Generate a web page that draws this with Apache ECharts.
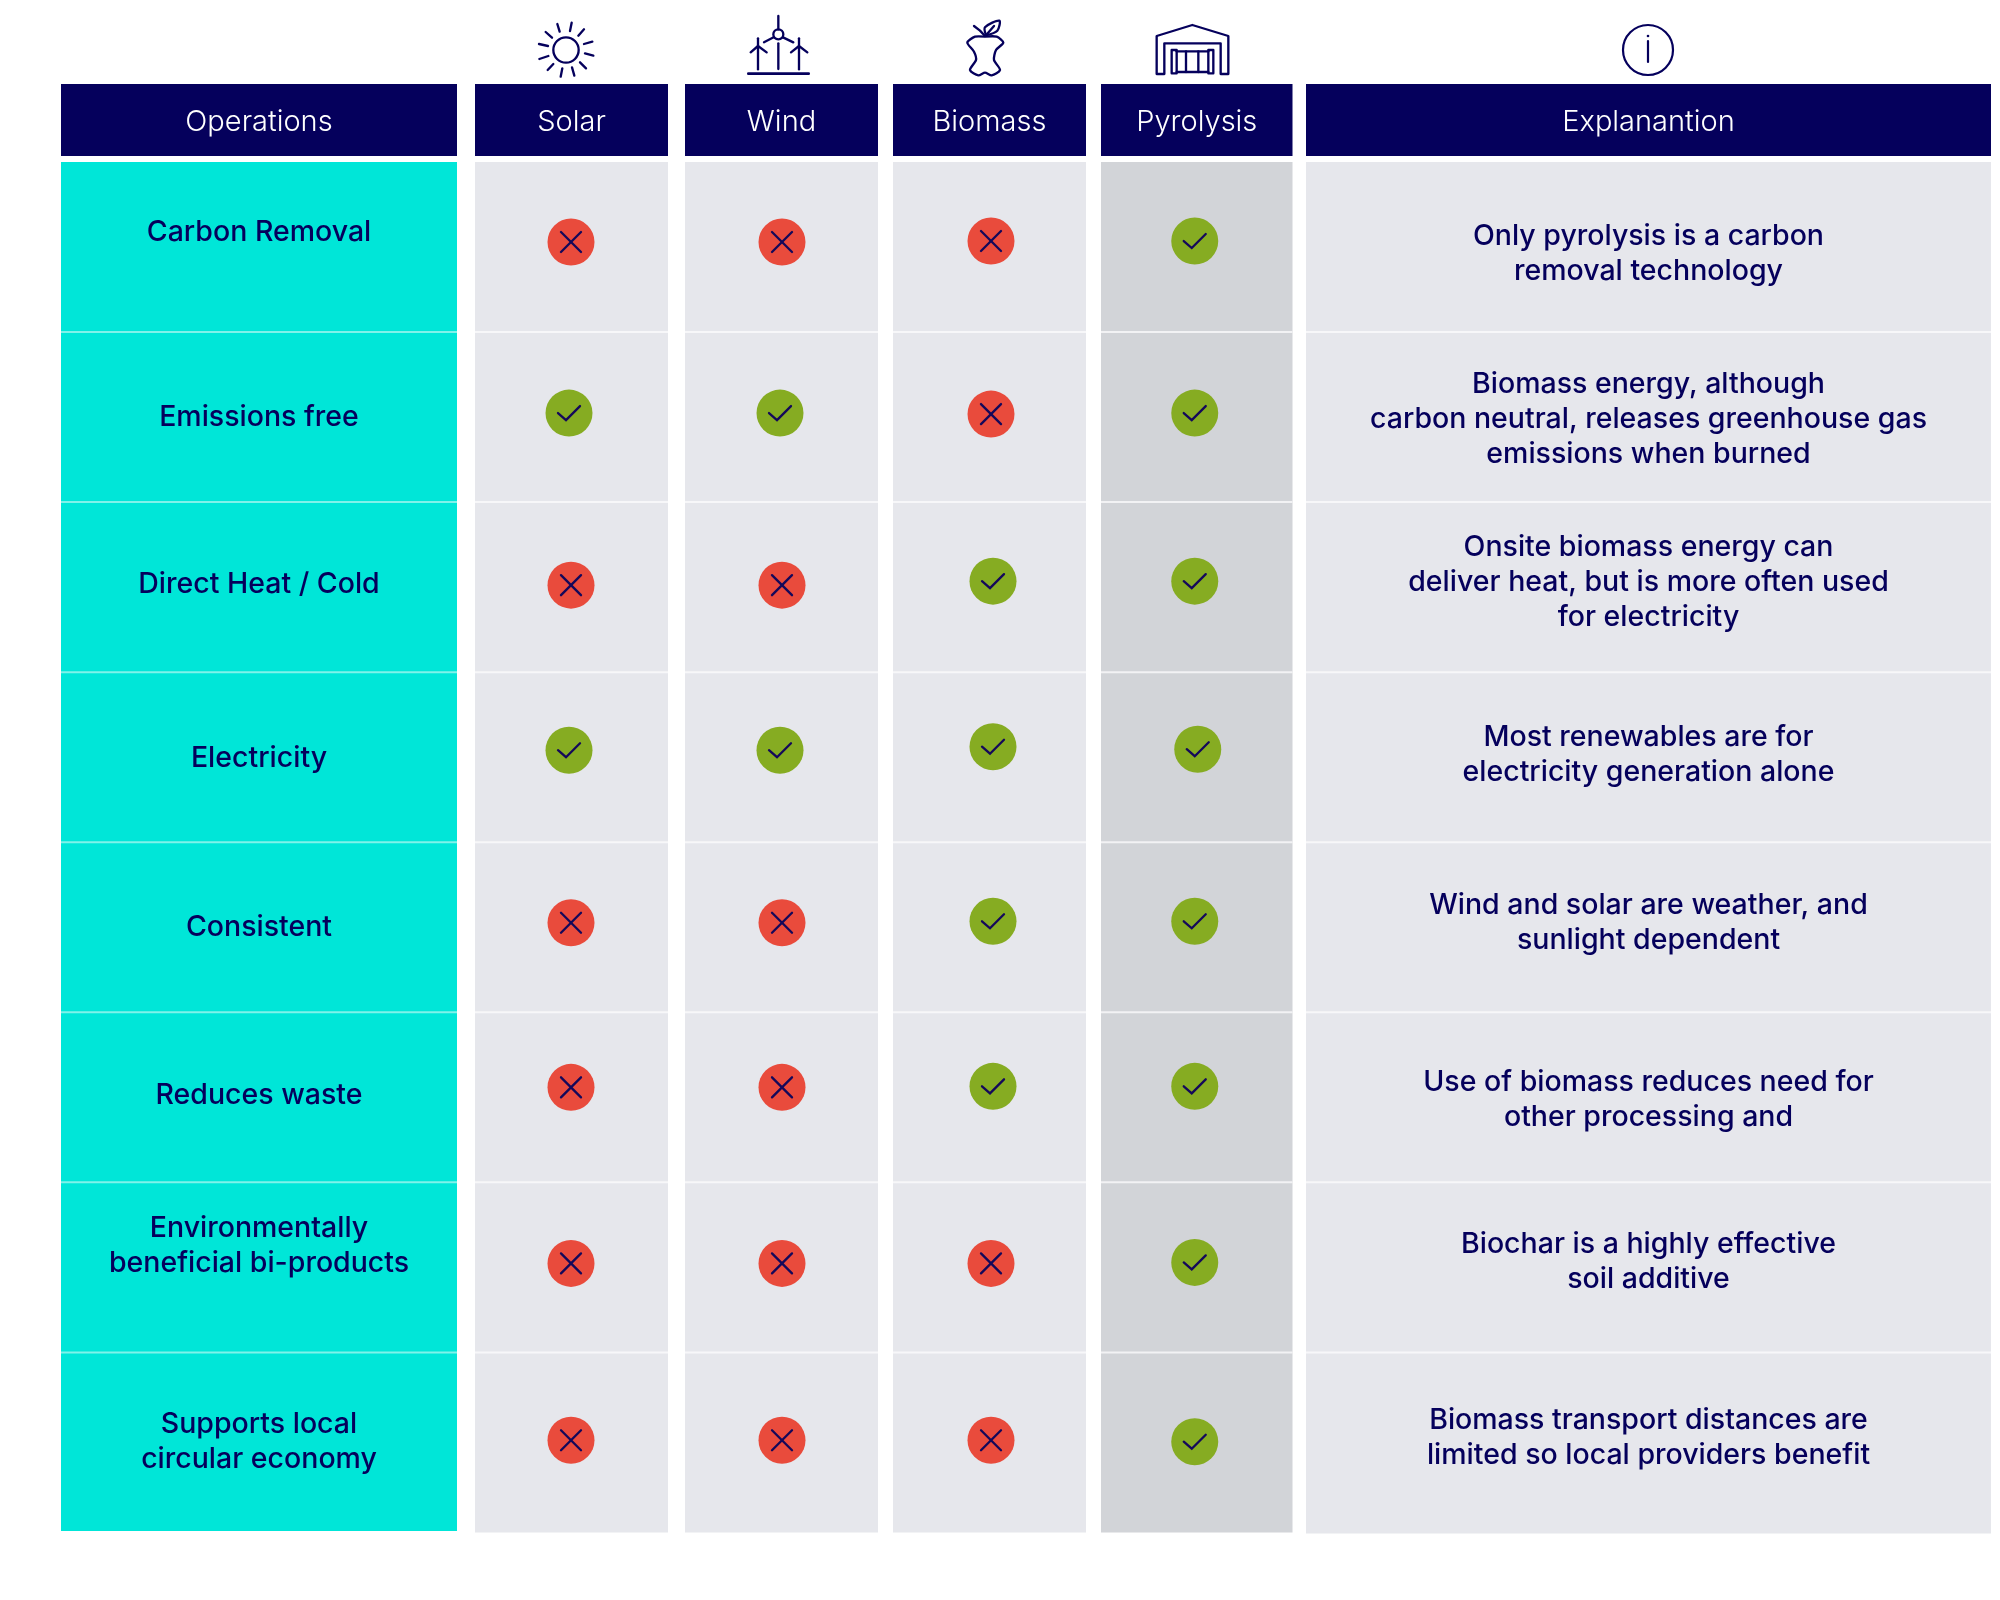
<!DOCTYPE html>
<html lang="en">
  <head>
    <meta charset="utf-8">
    <script src="https://cdn.jsdelivr.net/npm/echarts@6/dist/echarts.min.js"></script>
    <style>
      html, body { margin: 0; background: #fff; }
      #chart { width: 2000px; height: 1600px; }
    </style>
  </head>
  <body>
    <div id="chart"></div>
    <script>
      // table content, 1 = tick, 0 = cross
      const columnNames = ['Operations', 'Solar', 'Wind', 'Biomass', 'Pyrolysis', 'Explanantion'];
      const operations = [
        'Carbon Removal', 'Emissions free', 'Direct Heat / Cold', 'Electricity', 'Consistent',
        'Reduces waste', 'Environmentally\nbeneficial bi-products', 'Supports local\ncircular economy'
      ];
      const solar = [0, 1, 0, 1, 0, 0, 0, 0];
      const wind = [0, 1, 0, 1, 0, 0, 0, 0];
      const biomass = [0, 0, 1, 1, 1, 1, 0, 0];
      const pyrolysis = [1, 1, 1, 1, 1, 1, 1, 1];
      const explanations = [
        'Only pyrolysis is a carbon\nremoval technology',
        'Biomass energy, although\ncarbon neutral, releases greenhouse gas\nemissions when burned',
        'Onsite biomass energy can\ndeliver heat, but is more often used\nfor electricity',
        'Most renewables are for\nelectricity generation alone',
        'Wind and solar are weather, and\nsunlight dependent',
        'Use of biomass reduces need for\nother processing and',
        'Biochar is a highly effective\nsoil additive',
        'Biomass transport distances are\nlimited so local providers benefit'
      ];

      // layout
      const NAVY = '#05005c';
      const FONT = 'Inter';
      const TOP = 162, HEIGHT = 1369, ROWS_MAX = 8.05;
      const columnBoxes = [[61, 396], [475, 193], [685, 193], [893, 193], [1101, 191.5], [1306, 685]];
      const bottomExtra = [0, 1.5, 1.5, 1.5, 1.5, 2.5];
      const cellColors = ['#00e6d8', '#e6e7ec', '#e6e7ec', '#e6e7ec', '#d2d4d8', '#e6e7ec'];
      const lineColors = ['#80f2ea', '#f7f7f9', '#f7f7f9', '#f7f7f9', '#f2f2f4', '#f7f7f9'];
      // the source artwork is not perfectly aligned, small pixel nudges off the row centre
      const nameNudge = [-15, 0, -3, 1, 0, -2, -21, 0];
      const noteNudge = [7, 2.5, -5, -2.5, -4, 3, -5, -4];
      const markNudgeY = {
        1: [-5, -4, -2, -7, -4.5, -10, -4, -1.5],
        2: [-5, -4, -2, -7, -4.5, -10, -4, -1.5],
        3: [-6, -3, -6, -10.5, -6, -11, -4, -1.5],
        4: [-6, -4, -6, -8, -6, -11, -5, 0]
      };
      const markNudgeX = { 1: [-0.5, -2.5], 2: [0.5, -1.5], 3: [1.5, 3.5], 4: [-2, -2] };

      function textEl(text, x, y) {
        return {
          type: 'text',
          style: {
            text: text, x: x, y: y, fill: NAVY, align: 'center', verticalAlign: 'middle',
            fontFamily: FONT, fontSize: 28.5, fontWeight: 500, lineHeight: 35
          }
        };
      }

      function markEls(flag, x, y) {
        const stroke = { stroke: '#14085a', lineWidth: 2.3, fill: 'none', lineCap: 'round' };
        const circle = {
          type: 'circle',
          shape: { cx: x, cy: y, r: 23.5 },
          style: { fill: flag ? '#86ac22' : '#e94b3c' }
        };
        if (flag) {
          return [circle, {
            type: 'polyline',
            shape: { points: [[x - 11, y], [x - 3, y + 7], [x + 11, y - 7]] },
            style: stroke
          }];
        }
        return [circle,
          { type: 'line', shape: { x1: x - 10, y1: y - 10, x2: x + 10, y2: y + 10 }, style: stroke },
          { type: 'line', shape: { x1: x - 10, y1: y + 10, x2: x + 10, y2: y - 10 }, style: stroke }];
      }

      function cellRenderer(colIdx, values) {
        return function (params, api) {
          const i = params.dataIndex;
          const last = i === values.length - 1;
          const top = api.coord([0, i])[1];
          const bottom = api.coord([0, last ? ROWS_MAX : i + 1])[1];
          const cx = api.coord([0, i])[0];
          const w = api.size([1, 0])[0];
          const cy = (top + bottom) / 2;
          const children = [{
            type: 'rect',
            shape: { x: cx - w / 2, y: top, width: w, height: bottom - top + (last ? bottomExtra[colIdx] : 0) },
            style: { fill: cellColors[colIdx] }
          }];
          if (i > 0) {
            children.push({
              type: 'line',
              shape: { x1: cx - w / 2, y1: top, x2: cx + w / 2, y2: top },
              style: { stroke: lineColors[colIdx], lineWidth: 2 }
            });
          }
          if (colIdx === 0) children.push(textEl(values[i], cx, cy + nameNudge[i]));
          else if (colIdx === 5) children.push(textEl(values[i], cx, cy + noteNudge[i]));
          else {
            const v = values[i];
            const nx = markNudgeX[colIdx][v] + (colIdx === 4 && i === 3 ? 3 : 0);
            children.push.apply(children, markEls(v, cx + nx, cy + markNudgeY[colIdx][i]));
          }
          return { type: 'group', children: children };
        };
      }

      const columnValues = [operations, solar, wind, biomass, pyrolysis, explanations];

      const grids = [], xAxes = [], yAxes = [], series = [];
      columnNames.forEach(function (name, k) {
        grids.push({ left: columnBoxes[k][0], width: columnBoxes[k][1], top: TOP, height: HEIGHT });
        xAxes.push({
          type: 'category', gridIndex: k, position: 'top', data: [name],
          axisLine: { show: false }, axisTick: { show: false }, splitLine: { show: false },
          axisLabel: {
            interval: 0, margin: 6, color: '#fff', fontFamily: FONT, fontSize: 29, fontWeight: 300,
            width: columnBoxes[k][1], height: 68, lineHeight: 68, padding: [4, 0, 0, 0], align: 'center',
            backgroundColor: NAVY
          }
        });
        yAxes.push({ type: 'value', gridIndex: k, inverse: true, min: 0, max: ROWS_MAX, show: false });
        series.push({
          type: 'custom', xAxisIndex: k, yAxisIndex: k, silent: true, clip: false,
          data: columnValues[k].map(function (v, i) { return [0, i]; }),
          encode: { x: 0, y: 1 },
          renderItem: cellRenderer(k, columnValues[k])
        });
      });

      // header pictograms, coordinates are in 3x units inside each group
      const line = { stroke: NAVY, lineWidth: 7, fill: 'none', lineCap: 'round', lineJoin: 'round' };
      function seg(a, b, c, d, width) {
        return { type: 'line', shape: { x1: a, y1: b, x2: c, y2: d },
          style: Object.assign({}, line, width ? { lineWidth: width } : {}) };
      }
      function poly(points, smooth, width) {
        return { type: 'polyline', shape: { points: points, smooth: smooth || 0 },
          style: Object.assign({}, line, width ? { lineWidth: width } : {}) };
      }
      const sunRays = [
        [112, 42, 119, 65], [155, 38, 150, 63], [192, 58, 175, 77], [217, 95, 192, 102],
        [220, 137, 195, 130], [198, 175, 180, 157], [163, 197, 156, 172], [122, 200, 127, 175],
        [83, 180, 100, 162], [58, 147, 85, 138], [57, 102, 84, 108], [77, 66, 96, 83]
      ];
      const sunAndTurbines = sunRays.map(function (r) { return seg(r[0], r[1], r[2], r[3]); }).concat([
        { type: 'circle', shape: { cx: 138, cy: 120, r: 38 }, style: line },
        seg(775, 18, 775, 58),
        { type: 'circle', shape: { cx: 775, cy: 73, r: 15 }, style: line },
        seg(761, 82, 732, 97), seg(789, 82, 820, 97), seg(775, 100, 775, 177),
        seg(714, 85, 714, 178), poly([[692, 127], [714, 108], [740, 127]]),
        seg(837, 85, 837, 178), poly([[813, 127], [837, 108], [862, 127]]),
        seg(685, 191, 866, 191, 8)
      ]);
      const appleAndWarehouse = [
        poly([[105, 80], [75, 80], [52, 98], [72, 125], [78, 150], [60, 180], [85, 196], [105, 188],
          [125, 196], [150, 180], [132, 150], [138, 120], [160, 98], [140, 80], [105, 80]], 0.25),
        poly([[105, 78], [90, 62], [72, 48]]),
        poly([[108, 76], [105, 52], [148, 32], [142, 62], [108, 76]], 0.3),
        seg(108, 76, 132, 48),
        poly([[620, 192], [620, 78], [727, 45], [835, 78], [835, 192], [812, 192], [812, 100],
          [643, 100], [643, 192], [620, 192]]),
        poly([[665, 190], [665, 120], [680, 120], [680, 190], [665, 190]]),
        poly([[775, 190], [775, 120], [790, 120], [790, 190], [775, 190]]),
        seg(680, 124, 775, 124), seg(680, 186, 775, 186),
        seg(708, 124, 708, 186), seg(745, 124, 745, 186)
      ];
      const infoMark = [
        { type: 'circle', shape: { cx: 0, cy: 0, r: 25 }, style: { stroke: NAVY, lineWidth: 2.2, fill: 'none' } },
        seg(0, -9, 0, 12, 2.2),
        { type: 'circle', shape: { cx: 0, cy: -14, r: 1.3 }, style: { fill: NAVY } }
      ];

      const chart = echarts.init(document.getElementById('chart'));
      chart.setOption({
        animation: false,
        backgroundColor: '#fff',
        grid: grids,
        xAxis: xAxes,
        yAxis: yAxes,
        series: series,
        graphic: [
          { type: 'group', x: 520, y: 10, scaleX: 1 / 3, scaleY: 1 / 3, silent: true, children: sunAndTurbines },
          { type: 'group', x: 950, y: 10, scaleX: 1 / 3, scaleY: 1 / 3, silent: true, children: appleAndWarehouse },
          { type: 'group', x: 1648, y: 50, silent: true, children: infoMark }
        ]
      });
    </script>
  </body>
</html>
